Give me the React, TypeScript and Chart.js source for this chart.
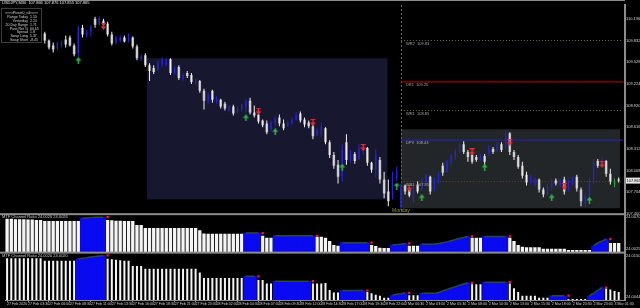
import React, { useEffect, useRef } from 'react';
import { Chart, registerables } from 'chart.js';

Chart.register(...registerables);

const FONT = 'Liberation Sans';

// ---------- header / info ----------
const SYMBOL = 'USDJPY,M30';
const HEADER_VALUES = ['107.866', '107.876', '107.855', '107.865'];
const INFO_TITLE = 'Pivots0_v4';
const INFO_LABELS = ['Range Today', 'Yesterday', '20 Day Range', 'Pivot Ret %', 'Spread', 'Swap Long', 'Swap Short'];
const INFO_VALUES = ['1.10', '2.24', '1.71', '60.65', '1.8', '5.37', '-8.45'];

// ---------- price data (M30 bars) ----------
const OPEN = [
  109.998, 109.956, 110.012, 109.970, 110.039, 109.984, 109.929, 109.970, 109.901, 109.929,
  109.832, 109.762, 109.721, 109.762, 109.845, 109.873, 109.762, 109.652, 110.012, 109.901,
  109.956, 110.136, 110.067, 110.109, 110.067, 109.915, 109.804, 109.832, 109.873, 109.832,
  109.873, 109.749, 109.568, 109.624, 109.485, 109.444, 109.416, 109.499, 109.485, 109.568,
  109.375, 109.458, 109.291, 109.375, 109.347, 109.236, 109.264, 109.125, 108.973, 109.125,
  108.973, 109.001, 108.945, 108.848, 108.904, 108.821, 108.862, 108.904, 108.987, 108.821,
  108.793, 108.710, 108.668, 108.585, 108.668, 108.751, 108.668, 108.627, 108.668, 108.724,
  108.807, 108.724, 108.682, 108.627, 108.502, 108.516, 108.599, 108.405, 108.225, 108.087,
  107.934, 108.405, 108.156, 108.239, 108.170, 108.308, 108.322, 108.114, 108.017, 108.156,
  107.879, 107.713, 107.643, 107.893, 107.491, 107.796, 107.740, 107.574, 107.810, 107.740,
  107.837, 107.920, 107.740, 107.851, 108.073, 107.990, 108.114, 108.184, 108.267, 108.377,
  108.267, 108.225, 108.197, 108.156, 108.211, 108.239, 108.308, 108.280, 108.377, 108.322,
  108.530, 108.267, 108.197, 108.073, 107.948, 107.837, 107.810, 107.879, 107.740, 107.671,
  107.768, 107.865, 107.796, 107.879, 107.727, 107.823, 107.920, 107.740, 107.533, 107.657,
  107.837, 108.142, 108.073, 108.142, 107.962, 107.810, 107.865, null,
];
const HIGH = [
  110.067, 110.039, 110.095, 110.067, 110.122, 110.053, 110.012, 110.039, 109.984, 109.956,
  109.845, 109.804, 109.818, 109.832, 109.901, 109.901, 109.790, 110.039, 110.053, 109.984,
  110.053, 110.164, 110.178, 110.136, 110.095, 109.956, 109.901, 109.901, 109.901, 109.929,
  109.887, 109.776, 109.638, 109.652, 109.513, 109.485, 109.555, 109.596, 109.582, 109.582,
  109.471, 109.485, 109.375, 109.402, 109.375, 109.291, 109.278, 109.153, 109.098, 109.139,
  109.056, 109.014, 108.973, 108.931, 108.931, 108.904, 108.945, 109.014, 109.028, 108.918,
  108.821, 108.724, 108.710, 108.710, 108.765, 108.793, 108.724, 108.710, 108.751, 108.821,
  108.834, 108.751, 108.710, 108.654, 108.599, 108.682, 108.613, 108.433, 108.267, 108.156,
  108.377, 108.516, 108.294, 108.267, 108.377, 108.364, 108.336, 108.128, 108.308, 108.197,
  107.990, 107.879, 107.990, 108.059, 107.823, 107.810, 107.768, 107.823, 107.851, 107.893,
  107.962, 107.934, 107.907, 107.990, 108.114, 108.156, 108.239, 108.308, 108.405, 108.419,
  108.294, 108.267, 108.225, 108.239, 108.239, 108.364, 108.336, 108.405, 108.405, 108.571,
  108.544, 108.294, 108.225, 108.128, 107.990, 107.948, 107.907, 107.893, 107.768, 107.823,
  107.893, 107.893, 107.893, 107.920, 107.879, 107.920, 107.948, 107.768, 107.685, 107.893,
  108.170, 108.170, 108.184, 108.156, 108.031, 107.893, 107.907, null,
];
const LOW = [
  109.901, 109.859, 109.929, 109.887, 109.956, 109.873, 109.845, 109.859, 109.818, 109.790,
  109.707, 109.665, 109.693, 109.735, 109.735, 109.749, 109.610, 109.596, 109.873, 109.873,
  109.887, 110.012, 110.039, 110.026, 109.887, 109.762, 109.776, 109.804, 109.804, 109.804,
  109.721, 109.555, 109.541, 109.458, 109.264, 109.361, 109.402, 109.458, 109.471, 109.347,
  109.347, 109.278, 109.264, 109.305, 109.222, 109.208, 109.098, 108.862, 108.945, 108.959,
  108.945, 108.876, 108.848, 108.821, 108.779, 108.807, 108.834, 108.821, 108.793, 108.751,
  108.668, 108.613, 108.516, 108.557, 108.627, 108.627, 108.571, 108.613, 108.654, 108.710,
  108.682, 108.613, 108.599, 108.447, 108.488, 108.474, 108.377, 108.184, 108.031, 107.823,
  107.851, 108.087, 108.114, 108.100, 108.156, 108.225, 108.073, 107.976, 107.907, 107.823,
  107.616, 107.505, 107.602, 107.851, 107.463, 107.671, 107.630, 107.546, 107.685, 107.727,
  107.810, 107.671, 107.713, 107.823, 107.934, 107.976, 108.087, 108.156, 108.253, 108.239,
  108.128, 108.100, 108.128, 108.142, 108.087, 108.211, 108.239, 108.267, 108.267, 108.308,
  108.225, 108.156, 108.031, 107.893, 107.796, 107.810, 107.782, 107.699, 107.630, 107.657,
  107.727, 107.796, 107.768, 107.671, 107.713, 107.796, 107.713, 107.505, 107.491, 107.616,
  107.810, 108.045, 108.059, 107.920, 107.810, 107.768, 107.837, null,
];
const CLOSE = [
  109.956, 110.012, 109.970, 110.039, 109.984, 109.929, 109.970, 109.901, 109.929, 109.832,
  109.735, 109.707, 109.790, 109.818, 109.776, 109.762, 109.638, 110.012, 109.915, 109.956,
  110.026, 110.053, 110.150, 110.053, 109.915, 109.790, 109.873, 109.873, 109.818, 109.887,
  109.749, 109.582, 109.610, 109.485, 109.402, 109.388, 109.527, 109.568, 109.555, 109.375,
  109.444, 109.305, 109.347, 109.333, 109.250, 109.264, 109.125, 108.987, 109.070, 109.001,
  109.028, 108.904, 108.876, 108.904, 108.807, 108.876, 108.931, 108.987, 108.821, 108.779,
  108.696, 108.641, 108.544, 108.682, 108.737, 108.668, 108.599, 108.682, 108.724, 108.793,
  108.710, 108.654, 108.627, 108.488, 108.571, 108.627, 108.405, 108.225, 108.073, 107.920,
  108.294, 108.156, 108.253, 108.142, 108.322, 108.336, 108.114, 108.017, 108.239, 107.879,
  107.685, 107.574, 107.920, 108.017, 107.782, 107.713, 107.657, 107.782, 107.713, 107.865,
  107.934, 107.713, 107.865, 107.962, 107.976, 108.128, 108.211, 108.280, 108.377, 108.267,
  108.197, 108.128, 108.156, 108.211, 108.128, 108.322, 108.267, 108.377, 108.294, 108.530,
  108.267, 108.197, 108.059, 107.934, 107.837, 107.920, 107.879, 107.740, 107.671, 107.796,
  107.865, 107.823, 107.865, 107.713, 107.837, 107.893, 107.754, 107.574, 107.643, 107.851,
  108.128, 108.073, 108.156, 107.962, 107.851, 107.865, 107.865, null,
];
const HIGHLIGHT_BAR = 145;
const CURRENT_PRICE = 107.865;

// signal arrows: [bar index, price]
const UP_ARROWS = [
  [17, 109.548], [57, 108.744], [64, 108.55], [80, 108.052], [93, 107.789],
  [99, 107.623], [114, 108.052], [130, 107.623], [139, 107.588],
];
const DOWN_ARROWS = [
  [23, 110.032], [60, 108.841], [73, 108.682], [85, 108.329], [96, 107.761],
  [111, 108.267], [120, 108.405], [133, 107.782], [142, 108.094],
];

// pivot levels
const LEVEL_NAMES = ['WR2', 'DR1', 'WR1', 'DPV', 'WS1'];
const LEVEL_VALUES = [109.832, 109.25, 108.848, 108.433, 107.851];
const LEVEL_COLORS = ['#77771c', '#c40000', '#77771c', '#2222cc', '#5e4a26'];
const LEVEL_DASHED = [true, false, true, false, true];

const MONDAY_INDEX = 94;
const MONDAY_LABEL = 'Monday';
const FRIDAY_BOX = [33.4, 90.8, 109.582, 107.602];
const WEEK_BOX = [94, 146.3, 108.585, 107.477];

const PRICE_MIN = 107.394;
const PRICE_MAX = 110.33;
const PRICE_TICKS = [
  107.4, 107.552, 107.704, 107.856, 108.008, 108.16, 108.312, 108.464, 108.616, 108.768,
  108.92, 109.072, 109.224, 109.376, 109.528, 109.68, 109.832, 109.984, 110.136, 110.288,
];

// ---------- sub-window histograms ----------
const PANE1_TITLE = 'MTF Channel Ratio 24.0026 24.0026';
const PANE2_TITLE = 'MTF Channel Ratio 24.0020 24.0020';
const PANE1_TICKS = [92, 10];
const PANE1_TICK_LABELS = ['24.0070', '24.0025'];
const PANE2_TICKS = [94, 6];
const PANE2_TICK_LABELS = ['24.0150', '24.0044'];

const PANE1 = [
  88, 88, 87, 87, 87, 86, 86, 85, 85,
  82, 82, 82, 82, 82, 82, 82, 82, 82,
  90, 90, 91, 92, 92, 92,
  85, 84, 83, 83, 82, 82, 82,
  72, 72,
  64, 64, 64, 64, 64, 64, 64, 64, 64, 64, 64, 64, 64,
  58, 50,
  49, 49, 49, 49, 49, 49, 49, 49, 49,
  51, 51, 51, 51,
  44, 38.5, 38.5,
  43.6, 43.6, 43.6, 43.6, 43.6, 43.6, 43.6, 43.6, 43.6, 43.6,
  41, 41,
  39, 30, 20, 18,
  26, 26, 26, 26, 26, 26, 26,
  20, 17, 13, 12, 12,
  20, 21, 22, 24,
  18, 18, 18,
  22, 22, 22, 22,
  24, 26, 28, 31, 34, 37, 40, 42,
  39, 39, 39,
  42, 42, 42, 42, 42, 42,
  39, 30, 20, 15,
  14, 14, 14, 14,
  10, 10, 10, 10, 10, 10,
  7, 7, 7, 7, 7, 7,
  18, 25, 30, 35,
  25, 25, 25,
  null,
];
const PANE1_BLUE = [[18, 23], [57, 60], [64, 73], [80, 86], [92, 95], [99, 110], [114, 119], [140, 143]];

const PANE2 = [
  88, 88, 88, 88, 88, 88, 88, 88, 88,
  83, 83, 83, 83, 83, 83, 83, 83,
  87, 88, 89, 91, 92, 93, 94,
  87, 86, 85, 84, 83, 83,
  72, 72, 72,
  66, 66, 66, 66, 66, 66, 66, 66, 66, 66, 66, 66, 66,
  58,
  46.5, 46.5, 46.5, 46.5, 46.5, 46.5, 46.5, 46.5, 46.5, 46.5,
  50, 50, 50,
  42, 42,
  35, 35,
  39.6, 39.6, 39.6, 39.6, 39.6, 39.6, 39.6, 39.6, 39.6,
  35, 35, 35,
  36, 21, 16, 16,
  20, 20, 20, 20, 20, 20,
  17, 14, 11, 9,
  5, 5,
  10, 12, 13, 15,
  10, 10, 10,
  14, 14, 14, 14,
  16, 19, 22, 25, 28, 31, 34, 36,
  33, 33, 33,
  37.5, 37.5, 37.5, 37.5, 37.5, 37.5,
  35, 25, 17,
  9, 9, 9, 9,
  5, 5, 5,
  9, 9, 9, 9,
  2, 2, 2, 2, 2,
  9, 14, 20, 26,
  25, 22, 19, 17,
  null,
];
const PANE2_BLUE = [[17, 23], [57, 59], [64, 72], [80, 85], [92, 95], [99, 110], [114, 119], [130, 133], [139, 142]];

// time axis: one label every 5 bars
const TIME_LABELS = [
  '27 Feb 2020', '27 Feb 03:30', '27 Feb 06:00', '27 Feb 08:30', '27 Feb 11:00', '27 Feb 13:30',
  '27 Feb 16:00', '27 Feb 18:30', '27 Feb 21:00', '27 Feb 23:30', '28 Feb 02:00', '28 Feb 04:30',
  '28 Feb 07:00', '28 Feb 09:30', '28 Feb 12:00', '28 Feb 14:30', '28 Feb 17:00', '28 Feb 19:30',
  '28 Feb 22:00', '2 Mar 00:30', '2 Mar 03:00', '2 Mar 05:30', '2 Mar 08:00', '2 Mar 10:30',
  '2 Mar 13:00', '2 Mar 15:30', '2 Mar 18:00', '2 Mar 20:30', '2 Mar 23:00', '3 Mar 01:30',
];
const LABEL_EVERY = 5;

const BULL_BLUE = '#2424d6';
const BEAR_WHITE = '#f2f2f2';
const BEAR_BODY = '#a9a9a9';
const GREEN = '#22a040';
const PANE_BLUE = '#0a0af0';
const GRAY = '#8c8c8c';
const TEXT = '#d2d2d2';

function makeArrow(color: string, up: boolean): HTMLCanvasElement {
  const c = document.createElement('canvas');
  c.width = 7;
  c.height = 7;
  const g = c.getContext('2d') as CanvasRenderingContext2D;
  g.fillStyle = color;
  if (up) {
    g.beginPath();
    g.moveTo(3.5, 0);
    g.lineTo(6.5, 3.5);
    g.lineTo(0.5, 3.5);
    g.closePath();
    g.fill();
    g.fillRect(2.75, 3, 1.5, 4);
  } else {
    g.fillRect(1, 0, 5, 1);
    g.fillRect(2.75, 0, 1.5, 4);
    g.beginPath();
    g.moveTo(3.5, 7);
    g.lineTo(6.5, 3.5);
    g.lineTo(0.5, 3.5);
    g.closePath();
    g.fill();
  }
  return c;
}

export default function App() {
  const canvasRef = useRef<HTMLCanvasElement | null>(null);

  useEffect(() => {
    const canvas = canvasRef.current;
    if (!canvas) return;
    const n = OPEN.length;
    const idx = Array.from({ length: n }, (_, i) => i);
    const has = (i: number) => OPEN[i] !== null && OPEN[i] !== undefined;
    const bull = (i: number) => has(i) && (CLOSE[i] as number) > (OPEN[i] as number);
    const inSeg = (segs: number[][], i: number) => segs.some(([a, b]) => i >= a && i <= b);
    const candleColor = (i: number) => (i === HIGHLIGHT_BAR ? GREEN : bull(i) ? BULL_BLUE : BEAR_WHITE);
    const arrowData = (list: number[][]) =>
      idx.map((i) => {
        const a = list.find((p) => p[0] === i);
        return a ? a[1] : null;
      });
    const redDots = (vals: (number | null)[], segs: number[][]) =>
      idx.map((i) => {
        const s = segs.find((sg) => sg[1] + 1 === i);
        return s ? vals[s[1]] : null;
      });

    const upArrow = makeArrow('#2fb84c', true);
    const downArrow = makeArrow('#ee2a2a', false);

    const paneSets = (vals: (number | null)[], segs: number[][], axis: string, whiteWidth: number) => [
      {
        type: 'line', data: redDots(vals, segs), yAxisID: axis, showLine: false, pointStyle: 'rect',
        pointRadius: 1.6, backgroundColor: '#ff1818', borderColor: '#ff1818', borderWidth: 0, order: 0,
      },
      {
        type: 'line', data: idx.map((i) => (inSeg(segs, i) ? vals[i] : null)), yAxisID: axis,
        borderColor: '#2c4a2c', borderWidth: 1.5, pointRadius: 0, spanGaps: false, order: 1,
      },
      {
        type: 'bar', data: idx.map((i) => (inSeg(segs, i) ? vals[i] : null)), yAxisID: axis,
        backgroundColor: PANE_BLUE, barPercentage: 1, categoryPercentage: 1, grouped: false, order: 6,
      },
      {
        type: 'bar', data: idx.map((i) => (!inSeg(segs, i) ? vals[i] : null)), yAxisID: axis,
        backgroundColor: '#f4f4f4', barThickness: whiteWidth, inflateAmount: 0, grouped: false, order: 6,
      },
    ];

    const datasets: any[] = [
      { type: 'line', data: arrowData(UP_ARROWS), yAxisID: 'y', showLine: false, pointStyle: upArrow, pointRadius: 3, order: 0 },
      { type: 'line', data: arrowData(DOWN_ARROWS), yAxisID: 'y', showLine: false, pointStyle: downArrow, pointRadius: 3, order: 0 },
      {
        type: 'bar', data: idx.map((i) => (has(i) ? [LOW[i], HIGH[i]] : null)), yAxisID: 'y',
        backgroundColor: idx.map(candleColor), barThickness: 1, inflateAmount: 0, grouped: false, order: 1,
      },
      {
        type: 'bar', data: idx.map((i) => (bull(i) ? [OPEN[i], CLOSE[i]] : null)), yAxisID: 'y',
        backgroundColor: idx.map(candleColor), barThickness: 1.4, inflateAmount: 0, grouped: false, order: 2,
      },
      {
        type: 'bar', data: idx.map((i) => (has(i) && !bull(i) ? [OPEN[i], CLOSE[i]] : null)), yAxisID: 'y',
        backgroundColor: BEAR_BODY, borderWidth: 0, barThickness: 2.6, inflateAmount: 0, minBarLength: 1,
        grouped: false, order: 3,
      },
      ...LEVEL_VALUES.map((v, k) => ({
        type: 'line', data: idx.map((i) => (i >= MONDAY_INDEX ? v : null)), yAxisID: 'y',
        borderColor: LEVEL_COLORS[k], borderWidth: 1, borderDash: LEVEL_DASHED[k] ? [1, 2] : [],
        pointRadius: 0, order: 4,
      })),
      ...paneSets(PANE1, PANE1_BLUE, 'y1', 3.3),
      ...paneSets(PANE2, PANE2_BLUE, 'y2', 2),
    ];

    const overlay = {
      id: 'overlay',
      beforeDatasetsDraw(chart: any) {
        const { ctx, scales } = chart;
        const x = scales.x, y = scales.y;
        ctx.save();
        const boxes = [
          { b: FRIDAY_BOX, c: '#17172f' },
          { b: WEEK_BOX, c: '#232628' },
        ];
        for (const { b, c } of boxes) {
          const x0 = x.getPixelForValue(b[0]);
          const x1 = x.getPixelForValue(b[1]);
          const y0 = y.getPixelForValue(b[2]);
          const y1 = y.getPixelForValue(b[3]);
          ctx.fillStyle = c;
          ctx.fillRect(x0, y0, x1 - x0, y1 - y0);
        }
        const xm = Math.round(x.getPixelForValue(MONDAY_INDEX)) + 0.5;
        ctx.strokeStyle = '#6e6e14';
        ctx.lineWidth = 1;
        ctx.setLineDash([2, 2]);
        ctx.beginPath();
        ctx.moveTo(xm, y.top);
        ctx.lineTo(xm, y.bottom);
        ctx.stroke();
        ctx.restore();
      },
      afterDraw(chart: any) {
        const { ctx, scales, chartArea } = chart;
        const x = scales.x, y = scales.y, y1 = scales.y1, y2 = scales.y2;
        const right = chartArea.right;
        ctx.save();
        ctx.fillStyle = GRAY;
        ctx.fillRect(0, 0, right, 1);
        ctx.fillRect(0, y1.top - 1, right, 2);
        ctx.fillRect(0, y2.top - 1, right, 2);

        // level labels
        ctx.font = `4px ${FONT}`;
        ctx.textBaseline = 'top';
        ctx.textAlign = 'left';
        ctx.fillStyle = '#a6a6a6';
        const lx = x.getPixelForValue(MONDAY_INDEX) + 5;
        LEVEL_VALUES.forEach((v, k) => {
          ctx.fillText(`${LEVEL_NAMES[k]}  ${v.toFixed(2)}`, lx, y.getPixelForValue(v) + 1);
        });

        // Monday label
        ctx.fillStyle = '#8e8e26';
        ctx.textAlign = 'center';
        ctx.font = `5px ${FONT}`;
        ctx.fillText(MONDAY_LABEL, x.getPixelForValue(MONDAY_INDEX), y.bottom - 6);

        // header
        ctx.textAlign = 'left';
        ctx.font = `4px ${FONT}`;
        ctx.fillStyle = '#e6e6e6';
        ctx.fillText(`${SYMBOL}  ${HEADER_VALUES.join(' ')}`, 2, 1);

        // info panel
        ctx.fillStyle = '#000';
        ctx.fillRect(1, 8, 41, 35);
        ctx.strokeStyle = '#3c3c3c';
        ctx.lineWidth = 1;
        ctx.strokeRect(1.5, 8.5, 40, 34);
        ctx.fillStyle = '#cfcfcf';
        ctx.textAlign = 'center';
        ctx.font = `3.5px ${FONT}`;
        ctx.fillText(INFO_TITLE, 21.5, 11);
        ctx.fillStyle = '#9a9a9a';
        ctx.fillRect(5, 12.5, 9, 0.8);
        ctx.fillRect(29, 12.5, 9, 0.8);
        ctx.fillStyle = '#cfcfcf';
        INFO_LABELS.forEach((lab, k) => {
          const ty = 15.5 + k * 3.8;
          ctx.textAlign = 'right';
          ctx.fillText(lab, 28, ty);
          ctx.textAlign = 'left';
          ctx.fillText(INFO_VALUES[k], 30, ty);
        });

        // pane titles
        ctx.textAlign = 'left';
        ctx.font = `4px ${FONT}`;
        ctx.fillStyle = '#c8c8c8';
        ctx.fillText(PANE1_TITLE, 2, y1.top + 1);
        ctx.fillText(PANE2_TITLE, 2, y2.top + 1);

        // current price marker
        const py = y.getPixelForValue(CURRENT_PRICE);
        ctx.fillStyle = '#e8e8e8';
        ctx.fillRect(right + 1, py - 3, 640 - right - 1, 6);
        ctx.fillStyle = '#000';
        ctx.textBaseline = 'middle';
        ctx.fillText(CURRENT_PRICE.toFixed(3), right + 1.5, py + 0.3);
        ctx.restore();
      },
    };

    const paneAxis = (weight: number, ticks: number[], labels: string[]) => ({
      type: 'linear', position: 'right', stack: 'win', stackWeight: weight, min: 0, max: 100,
      afterBuildTicks: (s: any) => { s.ticks = ticks.map((v) => ({ value: v })); },
      afterFit: (s: any) => { s.width = 15; },
      ticks: {
        callback: (_v: any, i: number) => labels[i], color: TEXT, padding: 0,
        font: { size: 4, family: FONT },
      },
      grid: { drawOnChartArea: false, tickLength: 1, color: GRAY },
      border: { color: GRAY, width: 2 },
    });

    const chart = new Chart(canvas, {
      type: 'bar',
      data: { labels: idx.map(String), datasets },
      options: {
        responsive: false,
        animation: false,
        devicePixelRatio: 1,
        events: [],
        layout: { padding: { top: 1, left: 0, right: 0, bottom: 0 } },
        plugins: { legend: { display: false }, tooltip: { enabled: false } },
        scales: {
          x: {
            type: 'category', offset: true,
            afterFit: (s: any) => { s.height = 8; },
            ticks: {
              autoSkip: false, maxRotation: 0, align: 'start', padding: 0, color: TEXT,
              font: { size: 3.6, family: FONT },
              callback: (_v: any, i: number) => (i % LABEL_EVERY === 0 ? TIME_LABELS[i / LABEL_EVERY] ?? '' : ''),
            },
            grid: {
              offset: false, drawOnChartArea: false, tickLength: 2,
              color: (c: any) => (c.index % LABEL_EVERY === 0 ? GRAY : 'rgba(0,0,0,0)'),
            },
            border: { color: GRAY, width: 1 },
          },
          y: {
            type: 'linear', position: 'right', stack: 'win', stackWeight: 212,
            min: PRICE_MIN, max: PRICE_MAX,
            afterBuildTicks: (s: any) => { s.ticks = PRICE_TICKS.map((v) => ({ value: v })); },
            afterFit: (s: any) => { s.width = 15; },
            ticks: {
              callback: (v: any) => Number(v).toFixed(3), color: TEXT, padding: 0,
              font: { size: 4, family: FONT },
            },
            grid: { drawOnChartArea: false, tickLength: 1, color: GRAY },
            border: { color: GRAY, width: 2 },
          },
          y1: paneAxis(39, PANE1_TICKS, PANE1_TICK_LABELS),
          y2: paneAxis(48, PANE2_TICKS, PANE2_TICK_LABELS),
        } as any,
      },
      plugins: [overlay],
    } as any);

    return () => chart.destroy();
  }, []);

  return (
    <div style={{ position: 'fixed', left: 0, top: 0, width: 640, height: 308, background: '#000' }}>
      <canvas ref={canvasRef} width={640} height={308} style={{ display: 'block' }} />
    </div>
  );
}
